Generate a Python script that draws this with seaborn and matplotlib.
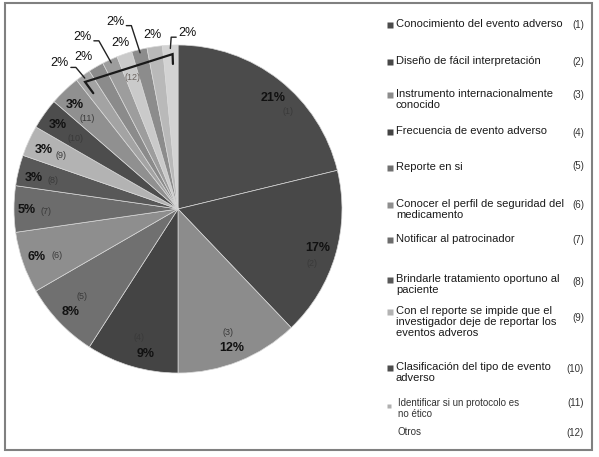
import matplotlib
matplotlib.use('Agg')
import matplotlib.pyplot as plt
import matplotlib.patches as mpatches
import numpy as np
import seaborn as sns

# respuestas por categoria (12 = "Otros", repartido en 7 respuestas)
categorias = [
    'Conocimiento del evento adverso',
    'Diseño de fácil interpretación',
    'Instrumento internacionalmente\nconocido',
    'Frecuencia de evento adverso',
    'Reporte en si',
    'Conocer el perfil de seguridad del\nmedicamento',
    'Notificar al patrocinador',
    'Brindarle tratamiento oportuno al\npaciente',
    'Con el reporte se impide que el\ninvestigador deje de reportar los\neventos adveros',
    'Clasificación del tipo de evento\nadverso',
    'Identificar si un protocolo es\nno ético',
    'Otros',
]
conteos = [14, 11, 8, 6, 5, 4, 3, 2, 2, 2, 2]
conteos_otros = [1, 1, 1, 1, 1, 1, 1]
grises = ['#4b4b4b', '#484848', '#8c8c8c', '#444444', '#707070', '#8e8e8e',
          '#6c6c6c', '#585858', '#b3b3b3', '#4d4d4d', '#909090']
grises_otros = ['#a3a3a3', '#8b8b8b', '#9d9d9d', '#cacaca', '#8c8c8c', '#b9b9b9', '#d3d3d3']

sns.set_theme(style='white')
plt.rcParams['font.family'] = ['Liberation Sans', 'DejaVu Sans']

W, H = 599, 457
cx, cy, R = 178, H - 209, 164

valores = conteos + conteos_otros
colores = grises + grises_otros
tot = sum(valores)
fin = np.cumsum(valores) / tot * 360
ini = fin - np.array(valores) / tot * 360

def polar(theta, r):
    t = np.radians(theta)
    return cx + r * np.sin(t), cy + r * np.cos(t)

fig = plt.figure(figsize=(W / 100, H / 100), dpi=100)
ax = fig.add_axes([0, 0, 1, 1])
ax.pie(valores, colors=colores, startangle=90, counterclock=False,
       center=(cx, cy), radius=R,
       wedgeprops=dict(edgecolor='#d8d8d8', linewidth=0.5))
ax.set_xlim(0, W)
ax.set_ylim(0, H)
ax.axis('off')

# etiquetas dentro del pastel
pos_frac = [0.58, 0.54, 0.5, 0.45, 0.52, 0.47, 0.45, 0.4, 0.48, 0.45, 0.4]
pos_r = [0.89, 0.88, 0.86, 0.86, 0.85, 0.85, 0.86, 0.84, 0.84, 0.83, 0.84]
off_pct = [(-7, -7), (3, -7), (1, 8), (3, 9), (-6, 8), (-10, 1), (-10, -1),
           (-10, -1), (-9, -2), (-9, -6), (-6, -6)]
off_num = [(8, 7), (-3, 8), (-2, -7), (-3, -8), (6, -8), (10, -1), (9, 0),
           (9, 1), (9, 3), (9, 7), (6, 7)]
for i in range(len(conteos)):
    th = ini[i] + pos_frac[i] * (fin[i] - ini[i])
    p = polar(th, pos_r[i] * R)
    pct = f'{round(valores[i] / tot * 100)}%'
    ax.annotate(pct, p, xytext=(off_pct[i][0], -off_pct[i][1]), textcoords='offset pixels',
                ha='center', va='center', fontsize=9, fontweight='bold', color='#111111')
    ax.annotate(f'({i + 1})', p, xytext=(off_num[i][0], -off_num[i][1]), textcoords='offset pixels',
                ha='center', va='center', fontsize=6.5, color='#3a3a3a')

# etiquetas externas de "Otros"
off_ext = [(-23, -12), (-13, -10), (-27, -23), (-4, -11), (-24, -28), (-2, -12), (17, -12)]
guia = [True, False, True, False, True, False, True]
n0 = len(conteos)
for k in range(len(conteos_otros)):
    i = n0 + k
    th = (ini[i] + fin[i]) / 2
    bx, by = polar(th, R)
    tx, ty = bx + off_ext[k][0], by - off_ext[k][1]
    pct = f'{round(valores[i] / tot * 100)}%'
    ax.text(tx, ty, pct, ha='center', va='center', fontsize=9, color='#111111')
    if guia[k]:
        s = 1 if off_ext[k][0] < 0 else -1
        x0, y0 = tx + s * 11, ty - 4
        x1 = x0 + s * 5
        ex, ey = polar(th, R * 0.98)
        ax.plot([x0, x1, ex], [y0, y0, ey], color='#222222', lw=1)

# corchete del grupo (12)
a0, a1 = ini[n0] + 2, 358
pts = [polar(a0, 0.875 * R), polar(a0, 0.96 * R), polar(a1, 0.945 * R), polar(a1, 0.885 * R)]
ax.plot([p[0] for p in pts], [p[1] for p in pts], color='#1a1a1a', lw=1.6,
        solid_joinstyle='miter')
gx, gy = polar((ini[n0] + 360) / 2, 0.85 * R)
ax.text(gx, gy, '(12)', ha='center', va='center', fontsize=6.5, color='#6b6460')

# leyenda manual
y_txt = [25, 62, 95, 132, 168, 205, 240, 280, 312, 368, 404, 433]
y_num = [25, 62, 95, 133, 166, 205, 240, 282, 318, 369, 403, 433]
for j, lab in enumerate(categorias):
    small = j >= 10
    fs = 7 if small else 8
    xt = 398 if small else 396
    ax.text(xt, H - y_txt[j] + 6, lab, ha='left', va='top', fontsize=fs,
            color='#333333' if small else '#1a1a1a', linespacing=1.12)
    ax.text(584, H - y_num[j], f'({j + 1})', ha='right', va='center',
            fontsize=7, color='#333333')
    if j < len(grises):
        ms = 3.2 if j == 10 else 4
        yy = H - y_txt[j] - (2 if j == 10 else 0)
        ax.plot([389 if j == 10 else 390], [yy], marker='s', ms=ms,
                color='#b0b0b0' if j == 10 else grises[j], mec='none')

# marco de la figura
ax.add_patch(mpatches.Rectangle((5, H - 450), 587, 447, fill=False,
                                edgecolor='#808080', lw=1.5))

fig.savefig('out.png', dpi=100, facecolor='white')
